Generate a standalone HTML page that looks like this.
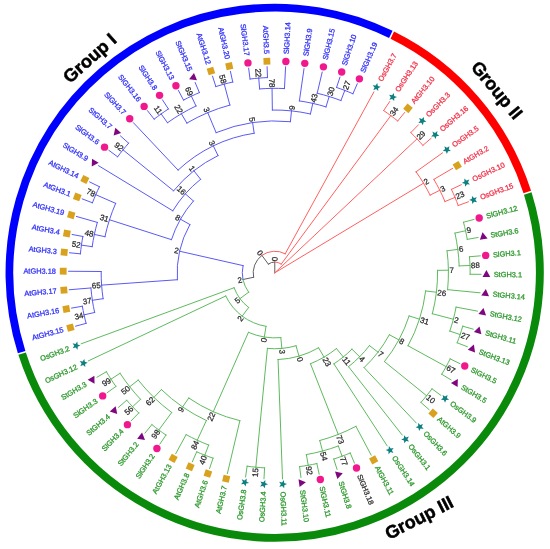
<!DOCTYPE html>
<html><head><meta charset="utf-8"><title>GH3 phylogenetic tree</title>
<style>.t{font-family:"Liberation Sans",Arial,Helvetica,sans-serif;text-rendering:geometricPrecision;}html,body{margin:0;padding:0;background:#fff;}body{width:550px;height:549px;overflow:hidden;}svg{display:block;}</style>
</head><body>
<svg width="550" height="549" viewBox="0 0 550 549">
<path d="M21.63 352.09A265.2 265.2 0 0 1 390.82 34.37" fill="none" stroke="#0000ff" stroke-width="7.9"/>
<path d="M392.28 35.09A265.2 265.2 0 0 1 527.28 191.97" fill="none" stroke="#ff0000" stroke-width="7.9"/>
<path d="M527.77 193.51A265.2 265.2 0 0 1 22.12 353.63" fill="none" stroke="#0a8a0a" stroke-width="7.9"/>
<path d="M261.86 255.37A21.71 21.71 0 0 0 253.56 277.28M253.56 277.28L242.94 279.51M274.78 261.95A10.85 10.85 0 0 0 268.33 264.09M268.33 264.09L261.86 255.37M274.8 272.8L274.78 261.95" fill="none" stroke="#606060" stroke-width="1" stroke-linecap="square"/>
<path d="M84.03 314.84A195.35 195.35 0 0 0 86.11 323.36M86.11 323.36L75.63 326.17M84.03 314.84A195.35 195.35 0 0 1 82.34 306.24M82.34 306.24L71.64 308.1M92.37 300.3A184.49 184.49 0 0 0 94.63 312.51M94.63 312.51L84.03 314.84M92.37 300.3A184.49 184.49 0 0 1 90.93 287.96M90.93 287.96L69.3 289.75M101.6 285.13A173.64 173.64 0 0 0 103.1 298.68M103.1 298.68L92.37 300.3M101.6 285.13A173.64 173.64 0 0 1 101.16 271.5M101.16 271.5L68.61 271.26M81.42 245.13A195.35 195.35 0 0 0 80.38 253.83M80.38 253.83L69.57 252.78M81.42 245.13A195.35 195.35 0 0 1 82.86 236.48M82.86 236.48L72.19 234.47M94.34 234.44A184.49 184.49 0 0 0 92.17 246.67M92.17 246.67L81.42 245.13M94.34 234.44A184.49 184.49 0 0 1 97.33 222.39M97.33 222.39L76.45 216.46M95.75 194.68A195.35 195.35 0 0 0 92.43 202.79M92.43 202.79L82.3 198.9M95.75 194.68A195.35 195.35 0 0 1 99.44 186.73M99.44 186.73L89.69 181.95M109.46 219.76A173.64 173.64 0 0 0 104.95 236.7M104.95 236.7L94.34 234.44M109.46 219.76A173.64 173.64 0 0 1 115.65 203.36M115.65 203.36L95.75 194.68M122.99 149.86A195.35 195.35 0 0 0 117.62 156.8M117.62 156.8L108.89 150.35M122.99 149.86A195.35 195.35 0 0 1 128.65 143.18M128.65 143.18L120.54 135.98M161.16 113.91A195.35 195.35 0 0 0 154.15 119.16M154.15 119.16L147.45 110.63M161.16 113.91A195.35 195.35 0 0 1 168.41 108.97M168.41 108.97L162.5 99.87M191.36 96.17A195.35 195.35 0 0 0 183.52 100.09M183.52 100.09L178.45 90.5M191.36 96.17A195.35 195.35 0 0 1 199.37 92.6M199.37 92.6L195.18 82.59M181.36 113.72A184.49 184.49 0 0 0 167.48 122.73M167.48 122.73L161.16 113.91M181.36 113.72A184.49 184.49 0 0 1 196 105.98M196 105.98L191.36 96.17M224.24 84.11A195.35 195.35 0 0 0 215.83 86.57M215.83 86.57L212.55 76.22M224.24 84.11A195.35 195.35 0 0 1 232.76 82.03M232.76 82.03L230.42 71.43M207.75 112.63A173.64 173.64 0 0 0 186.86 123.08M186.86 123.08L181.36 113.72M207.75 112.63A173.64 173.64 0 0 1 229.86 105.07M229.86 105.07L224.24 84.11M258.74 78.11A195.35 195.35 0 0 0 250.03 79.03M250.03 79.03L248.65 68.26M258.74 78.11A195.35 195.35 0 0 1 267.5 77.59M267.5 77.59L267.09 66.74M272.04 88.33A184.49 184.49 0 0 0 259.64 88.93M259.64 88.93L258.74 78.11M272.04 88.33A184.49 184.49 0 0 1 284.46 88.56M284.46 88.56L285.59 66.88M344.81 90.43A195.35 195.35 0 0 0 336.55 87.47M336.55 87.47L339.98 77.17M344.81 90.43A195.35 195.35 0 0 1 352.92 93.75M352.92 93.75L357.26 83.8M329.18 96.5A184.49 184.49 0 0 0 317.2 93.24M317.2 93.24L322.19 72.12M329.18 96.5A184.49 184.49 0 0 1 340.92 100.56M340.92 100.56L344.81 90.43M312.81 103.37A173.64 173.64 0 0 0 299.39 100.91M299.39 100.91L304.01 68.68M312.81 103.37A173.64 173.64 0 0 1 325.98 106.87M325.98 106.87L329.18 96.5M291.51 110.87A162.79 162.79 0 0 0 272.36 110.03M272.36 110.03L272.04 88.33M291.51 110.87A162.79 162.79 0 0 1 310.43 113.96M310.43 113.96L312.81 103.37M252.58 122.5A151.94 151.94 0 0 0 216.13 132.65M216.13 132.65L207.75 112.63M252.58 122.5A151.94 151.94 0 0 1 290.4 121.67M290.4 121.67L291.51 110.87M213.29 145.83A141.08 141.08 0 0 0 178.07 170.1M178.07 170.1L133.42 122.7M213.29 145.83A141.08 141.08 0 0 1 254.16 133.23M254.16 133.23L252.58 122.5M193.86 170.77A130.23 130.23 0 0 0 173.59 190.84M173.59 190.84L122.99 149.86M193.86 170.77A130.23 130.23 0 0 1 218.02 155.6M218.02 155.6L213.29 145.83M185.29 193.81A119.38 119.38 0 0 0 172.78 210.81M172.78 210.81L98.58 165.72M185.29 193.81A119.38 119.38 0 0 1 200.61 179.27M200.61 179.27L193.86 170.77M180.44 219.18A108.53 108.53 0 0 0 171.46 239.65M171.46 239.65L109.46 219.76M180.44 219.18A108.53 108.53 0 0 1 193.43 200.99M193.43 200.99L185.29 193.81M179.54 251.21A97.67 97.67 0 0 0 177.37 279.73M177.37 279.73L101.6 285.13M179.54 251.21A97.67 97.67 0 0 1 189.88 224.54M189.88 224.54L180.44 219.18M242.94 279.51A32.56 32.56 0 0 1 243.05 265.6M243.05 265.6L179.54 251.21" fill="none" stroke="#5a5af5" stroke-width="1" stroke-linecap="square"/>
<path d="M390.8 115.62A195.35 195.35 0 0 0 383.63 110.58M383.63 110.58L389.68 101.57M390.8 115.62A195.35 195.35 0 0 1 397.74 120.99M397.74 120.99L404.57 112.55M417 138.86A195.35 195.35 0 0 0 410.85 132.62M410.85 132.62L418.41 124.83M417 138.86A195.35 195.35 0 0 1 422.87 145.38M422.87 145.38L431.09 138.3M455 197.37A195.35 195.35 0 0 0 451.43 189.36M451.43 189.36L461.24 184.73M455 197.37A195.35 195.35 0 0 1 458.2 205.53M458.2 205.53L468.39 201.79M439.81 190.27A184.49 184.49 0 0 0 433.88 179.36M433.88 179.36L452.6 168.37M439.81 190.27A184.49 184.49 0 0 1 444.99 201.56M444.99 201.56L455 197.37M423.53 183.18A173.64 173.64 0 0 0 416.04 171.79M416.04 171.79L442.52 152.85M423.53 183.18A173.64 173.64 0 0 1 430.1 195.13M430.1 195.13L439.81 190.27M261.86 255.37A21.71 21.71 0 0 1 285.23 253.76M285.23 253.76L373.87 91.96M274.78 261.95A10.85 10.85 0 0 1 281.24 264.07M281.24 264.07L390.8 115.62M274.8 272.8L417 138.86M274.8 272.8L423.53 183.18" fill="none" stroke="#ff6060" stroke-width="1" stroke-linecap="square"/>
<path d="M465.57 230.76A195.35 195.35 0 0 0 463.49 222.24M463.49 222.24L473.97 219.43M465.57 230.76A195.35 195.35 0 0 1 467.26 239.36M467.26 239.36L477.96 237.5M470.01 265.5A195.35 195.35 0 0 0 469.49 256.74M469.49 256.74L480.3 255.85M470.01 265.5A195.35 195.35 0 0 1 470.14 274.26M470.14 274.26L480.99 274.34M457.81 249.4A184.49 184.49 0 0 0 454.97 233.09M454.97 233.09L465.57 230.76M457.81 249.4A184.49 184.49 0 0 1 459.17 265.9M459.17 265.9L470.01 265.5M448.42 270.2A173.64 173.64 0 0 0 447.04 250.78M447.04 250.78L457.81 249.4M448.42 270.2A173.64 173.64 0 0 1 447.62 289.66M447.62 289.66L480.03 292.82M460.13 334.55A195.35 195.35 0 0 0 462.71 326.18M462.71 326.18L473.15 329.14M460.13 334.55A195.35 195.35 0 0 1 457.17 342.81M457.17 342.81L467.3 346.7M453.36 319.22A184.49 184.49 0 0 0 456.08 307.1M456.08 307.1L477.41 311.13M453.36 319.22A184.49 184.49 0 0 1 449.83 331.12M449.83 331.12L460.13 334.55M436.43 292.24A162.79 162.79 0 0 0 437.57 270.36M437.57 270.36L448.42 270.2M436.43 292.24A162.79 162.79 0 0 1 432.35 313.76M432.35 313.76L453.36 319.22M446.12 366.65A195.35 195.35 0 0 0 450.16 358.87M450.16 358.87L459.91 363.65M446.12 366.65A195.35 195.35 0 0 1 441.74 374.25M441.74 374.25L451.02 379.88M419.48 319.21A151.94 151.94 0 0 0 425.65 290.94M425.65 290.94L436.43 292.24M419.48 319.21A151.94 151.94 0 0 1 408.05 345.8M408.05 345.8L446.12 366.65M426.61 395.74A195.35 195.35 0 0 0 431.98 388.8M431.98 388.8L440.71 395.25M426.61 395.74A195.35 195.35 0 0 1 420.95 402.42M420.95 402.42L429.06 409.62M398.91 339.89A141.08 141.08 0 0 0 409.14 315.9M409.14 315.9L419.48 319.21M398.91 339.89A141.08 141.08 0 0 1 384.44 361.59M384.44 361.59L426.61 395.74M378.05 352.18A130.23 130.23 0 0 0 389.37 334.73M389.37 334.73L398.91 339.89M378.05 352.18A130.23 130.23 0 0 1 364.09 367.6M364.09 367.6L416.18 422.9M359.65 356.78A119.38 119.38 0 0 0 369.44 345.56M369.44 345.56L378.05 352.18M359.65 356.78A119.38 119.38 0 0 1 348.53 366.69M348.53 366.69L402.15 434.97M343.31 356.96A108.53 108.53 0 0 0 351.93 349.14M351.93 349.14L359.65 356.78M343.31 356.96A108.53 108.53 0 0 1 333.91 363.82M333.91 363.82L387.1 445.73M342.07 456.2A195.35 195.35 0 0 0 350.23 453M350.23 453L354.42 463.01M342.07 456.2A195.35 195.35 0 0 1 333.77 459.03M333.77 459.03L337.05 469.38M308.24 465.26A195.35 195.35 0 0 0 316.84 463.57M316.84 463.57L319.18 474.17M308.24 465.26A195.35 195.35 0 0 1 299.57 466.57M299.57 466.57L300.95 477.34M322.55 451.01A184.49 184.49 0 0 0 338.33 446.01M338.33 446.01L342.07 456.2M322.55 451.01A184.49 184.49 0 0 1 306.38 454.57M306.38 454.57L308.24 465.26M338.24 434.44A173.64 173.64 0 0 0 355.94 426.32M355.94 426.32L371.15 455.1M338.24 434.44A173.64 173.64 0 0 1 319.74 440.53M319.74 440.53L322.55 451.01M324.06 357.14A97.67 97.67 0 0 0 336.46 348.55M336.46 348.55L343.31 356.96M324.06 357.14A97.67 97.67 0 0 1 310.48 363.72M310.48 363.72L338.24 434.44M299.04 356.17A86.82 86.82 0 0 0 318.59 347.77M318.59 347.77L324.06 357.14M299.04 356.17A86.82 86.82 0 0 1 278.05 359.56M278.05 359.56L282.51 478.86M255.83 467.22A195.35 195.35 0 0 0 264.58 467.88M264.58 467.88L264.01 478.72M255.83 467.22A195.35 195.35 0 0 1 247.13 466.18M247.13 466.18L245.59 476.92M281.85 348.44A75.97 75.97 0 0 0 296.01 345.75M296.01 345.75L299.04 356.17M281.85 348.44A75.97 75.97 0 0 1 267.42 348.41M267.42 348.41L255.83 467.22M204.79 455.17A195.35 195.35 0 0 0 213.05 458.13M213.05 458.13L209.62 468.43M204.79 455.17A195.35 195.35 0 0 1 196.68 451.85M196.68 451.85L192.34 461.8M197.25 440.2A184.49 184.49 0 0 0 208.68 445.04M208.68 445.04L204.79 455.17M197.25 440.2A184.49 184.49 0 0 1 186.16 434.61M186.16 434.61L175.73 453.64M158.8 429.98A195.35 195.35 0 0 0 165.97 435.02M165.97 435.02L159.92 444.03M158.8 429.98A195.35 195.35 0 0 1 151.86 424.61M151.86 424.61L145.03 433.05M132.6 406.74A195.35 195.35 0 0 0 138.75 412.98M138.75 412.98L131.19 420.77M132.6 406.74A195.35 195.35 0 0 1 126.73 400.22M126.73 400.22L118.51 407.3M110.97 379.19A195.35 195.35 0 0 0 115.91 386.44M115.91 386.44L107.08 392.75M110.97 379.19A195.35 195.35 0 0 1 106.36 371.74M106.36 371.74L97 377.23M129.7 386.75A184.49 184.49 0 0 0 140.5 399.3M140.5 399.3L132.6 406.74M129.7 386.75A184.49 184.49 0 0 1 120.07 373.28M120.07 373.28L110.97 379.19M153.87 397.41A173.64 173.64 0 0 0 171.69 412.51M171.69 412.51L158.8 429.98M153.87 397.41A173.64 173.64 0 0 1 138.24 380.05M138.24 380.05L129.7 386.75M182.6 406.96A162.79 162.79 0 0 0 206.37 420.51M206.37 420.51L197.25 440.2M182.6 406.96A162.79 162.79 0 0 1 161.43 389.62M161.43 389.62L153.87 397.41M213.26 411.72A151.94 151.94 0 0 0 239.88 420.67M239.88 420.67L227.41 473.48M213.26 411.72A151.94 151.94 0 0 1 188.74 398.02M188.74 398.02L182.6 406.96M264.29 337.06A65.12 65.12 0 0 0 280.84 337.64M280.84 337.64L281.85 348.44M264.29 337.06A65.12 65.12 0 0 1 248.43 332.34M248.43 332.34L213.26 411.72M242.14 316.14A54.26 54.26 0 0 0 266.04 326.35M266.04 326.35L264.29 337.06M242.14 316.14A54.26 54.26 0 0 1 225.74 295.98M225.74 295.98L88.36 360.87M239.94 298.67A43.41 43.41 0 0 0 248.67 307.47M248.67 307.47L242.14 316.14M239.94 298.67A43.41 43.41 0 0 1 234.04 287.75M234.04 287.75L81.21 343.81M242.94 279.51A32.56 32.56 0 0 0 248.65 292.2M248.65 292.2L239.94 298.67" fill="none" stroke="#5fba5f" stroke-width="1" stroke-linecap="square"/>
<g class="t" font-size="8" fill="#2b2b2b" stroke="#2b2b2b" stroke-width="0.25">
<text x="83.25" y="315.02" transform="rotate(-12.43 83.25 315.02)" text-anchor="end" dy="0.35em">34</text>
<text x="91.57" y="300.42" transform="rotate(-8.57 91.57 300.42)" text-anchor="end" dy="0.35em">37</text>
<text x="100.8" y="285.19" transform="rotate(-4.07 100.8 285.19)" text-anchor="end" dy="0.35em">65</text>
<text x="80.63" y="245.02" transform="rotate(8.14 80.63 245.02)" text-anchor="end" dy="0.35em">52</text>
<text x="93.55" y="234.28" transform="rotate(12 93.55 234.28)" text-anchor="end" dy="0.35em">48</text>
<text x="95.02" y="194.36" transform="rotate(23.57 95.02 194.36)" text-anchor="end" dy="0.35em">78</text>
<text x="108.7" y="219.52" transform="rotate(17.79 108.7 219.52)" text-anchor="end" dy="0.35em">31</text>
<text x="122.36" y="149.36" transform="rotate(39 122.36 149.36)" text-anchor="end" dy="0.35em">92</text>
<text x="160.7" y="113.26" transform="rotate(54.43 160.7 113.26)" text-anchor="end" dy="0.35em">11</text>
<text x="191.02" y="95.45" transform="rotate(64.71 191.02 95.45)" text-anchor="end" dy="0.35em">69</text>
<text x="180.95" y="113.03" transform="rotate(59.57 180.95 113.03)" text-anchor="end" dy="0.35em">22</text>
<text x="224.03" y="83.34" transform="rotate(75 224.03 83.34)" text-anchor="end" dy="0.35em">58</text>
<text x="207.44" y="111.89" transform="rotate(67.29 207.44 111.89)" text-anchor="end" dy="0.35em">3</text>
<text x="258.68" y="77.32" transform="rotate(85.29 258.68 77.32)" text-anchor="end" dy="0.35em">22</text>
<text x="272.03" y="87.53" transform="rotate(89.14 272.03 87.53)" text-anchor="end" dy="0.35em">78</text>
<text x="345.16" y="89.49" transform="rotate(-69 345.16 89.49)" text-anchor="start" dy="0.35em">27</text>
<text x="329.48" y="95.55" transform="rotate(-72.86 329.48 95.55)" text-anchor="start" dy="0.35em">30</text>
<text x="313.02" y="102.39" transform="rotate(-77.36 313.02 102.39)" text-anchor="start" dy="0.35em">43</text>
<text x="291.62" y="109.88" transform="rotate(-84.11 291.62 109.88)" text-anchor="start" dy="0.35em">9</text>
<text x="252.46" y="121.71" transform="rotate(81.59 252.46 121.71)" text-anchor="end" dy="0.35em">5</text>
<text x="212.94" y="145.11" transform="rotate(64.15 212.94 145.11)" text-anchor="end" dy="0.35em">3</text>
<text x="193.37" y="170.15" transform="rotate(51.58 193.37 170.15)" text-anchor="end" dy="0.35em">1</text>
<text x="184.7" y="193.28" transform="rotate(41.43 184.7 193.28)" text-anchor="end" dy="0.35em">16</text>
<text x="179.75" y="218.79" transform="rotate(29.61 179.75 218.79)" text-anchor="end" dy="0.35em">8</text>
<text x="178.76" y="251.04" transform="rotate(12.77 178.76 251.04)" text-anchor="end" dy="0.35em">2</text>
<text x="391.4" y="114.82" transform="rotate(-53.57 391.4 114.82)" text-anchor="start" dy="0.35em">34</text>
<text x="417.73" y="138.18" transform="rotate(-43.29 417.73 138.18)" text-anchor="start" dy="0.35em">29</text>
<text x="455.92" y="196.98" transform="rotate(-22.71 455.92 196.98)" text-anchor="start" dy="0.35em">23</text>
<text x="440.7" y="189.83" transform="rotate(-26.57 440.7 189.83)" text-anchor="start" dy="0.35em">3</text>
<text x="424.39" y="182.67" transform="rotate(-31.07 424.39 182.67)" text-anchor="start" dy="0.35em">2</text>
<text x="466.55" y="230.54" transform="rotate(-12.43 466.55 230.54)" text-anchor="start" dy="0.35em">9</text>
<text x="471.01" y="265.46" transform="rotate(-2.14 471.01 265.46)" text-anchor="start" dy="0.35em">88</text>
<text x="458.8" y="249.28" transform="rotate(-7.29 458.8 249.28)" text-anchor="start" dy="0.35em">6</text>
<text x="449.42" y="270.19" transform="rotate(-0.86 449.42 270.19)" text-anchor="start" dy="0.35em">7</text>
<text x="461.08" y="334.87" transform="rotate(18.43 461.08 334.87)" text-anchor="start" dy="0.35em">27</text>
<text x="454.33" y="319.47" transform="rotate(14.57 454.33 319.47)" text-anchor="start" dy="0.35em">2</text>
<text x="437.42" y="292.36" transform="rotate(6.86 437.42 292.36)" text-anchor="start" dy="0.35em">26</text>
<text x="447" y="367.13" transform="rotate(28.71 447 367.13)" text-anchor="start" dy="0.35em">67</text>
<text x="420.43" y="319.52" transform="rotate(17.79 420.43 319.52)" text-anchor="start" dy="0.35em">31</text>
<text x="427.39" y="396.37" transform="rotate(39 427.39 396.37)" text-anchor="start" dy="0.35em">10</text>
<text x="399.79" y="340.36" transform="rotate(28.39 399.79 340.36)" text-anchor="start" dy="0.35em">8</text>
<text x="378.84" y="352.79" transform="rotate(37.55 378.84 352.79)" text-anchor="start" dy="0.35em">7</text>
<text x="360.36" y="357.48" transform="rotate(44.71 360.36 357.48)" text-anchor="start" dy="0.35em">4</text>
<text x="343.95" y="357.74" transform="rotate(50.85 343.95 357.74)" text-anchor="start" dy="0.35em">11</text>
<text x="342.41" y="457.14" transform="rotate(69.86 342.41 457.14)" text-anchor="start" dy="0.35em">77</text>
<text x="308.41" y="466.25" transform="rotate(80.14 308.41 466.25)" text-anchor="start" dy="0.35em">92</text>
<text x="322.81" y="451.97" transform="rotate(75 322.81 451.97)" text-anchor="start" dy="0.35em">54</text>
<text x="338.6" y="435.37" transform="rotate(68.57 338.6 435.37)" text-anchor="start" dy="0.35em">73</text>
<text x="324.57" y="358" transform="rotate(59.71 324.57 358)" text-anchor="start" dy="0.35em">23</text>
<text x="299.32" y="357.13" transform="rotate(73.78 299.32 357.13)" text-anchor="start" dy="0.35em">0</text>
<text x="255.76" y="468.02" transform="rotate(-84.43 255.76 468.02)" text-anchor="end" dy="0.35em">15</text>
<text x="281.94" y="349.44" transform="rotate(84.68 281.94 349.44)" text-anchor="start" dy="0.35em">3</text>
<text x="204.51" y="455.92" transform="rotate(-69 204.51 455.92)" text-anchor="end" dy="0.35em">40</text>
<text x="196.91" y="440.93" transform="rotate(-65.14 196.91 440.93)" text-anchor="end" dy="0.35em">84</text>
<text x="158.32" y="430.62" transform="rotate(-53.57 158.32 430.62)" text-anchor="end" dy="0.35em">98</text>
<text x="132.02" y="407.29" transform="rotate(-43.29 132.02 407.29)" text-anchor="end" dy="0.35em">56</text>
<text x="110.3" y="379.63" transform="rotate(-33 110.3 379.63)" text-anchor="end" dy="0.35em">99</text>
<text x="129.07" y="387.24" transform="rotate(-38.14 129.07 387.24)" text-anchor="end" dy="0.35em">50</text>
<text x="153.31" y="397.98" transform="rotate(-45.86 153.31 397.98)" text-anchor="end" dy="0.35em">62</text>
<text x="182.14" y="407.62" transform="rotate(-55.5 182.14 407.62)" text-anchor="end" dy="0.35em">9</text>
<text x="212.94" y="412.45" transform="rotate(-66.11 212.94 412.45)" text-anchor="end" dy="0.35em">22</text>
<text x="264.16" y="337.85" transform="rotate(-80.71 264.16 337.85)" text-anchor="end" dy="0.35em">0</text>
<text x="241.66" y="316.78" transform="rotate(-53 241.66 316.78)" text-anchor="end" dy="0.35em">2</text>
<text x="239.29" y="299.14" transform="rotate(-36.57 239.29 299.14)" text-anchor="end" dy="0.35em">5</text>
<text x="242.16" y="279.68" transform="rotate(-11.9 242.16 279.68)" text-anchor="end" dy="0.35em">2</text>
<text x="261.38" y="254.73" transform="rotate(53.41 261.38 254.73)" text-anchor="end" dy="0.35em">0</text>
<text x="274.78" y="261.15" transform="rotate(89.92 274.78 261.15)" text-anchor="end" dy="0.35em">0</text>
</g>
<rect transform="translate(70.41 327.57) rotate(165)" x="-3.4" y="-3.4" width="6.8" height="6.8" fill="#d9a21e"/>
<rect transform="translate(66.32 309.02) rotate(170.14)" x="-3.4" y="-3.4" width="6.8" height="6.8" fill="#d9a21e"/>
<rect transform="translate(63.92 290.19) rotate(175.29)" x="-3.4" y="-3.4" width="6.8" height="6.8" fill="#d9a21e"/>
<rect transform="translate(63.21 271.22) rotate(180.43)" x="-3.4" y="-3.4" width="6.8" height="6.8" fill="#d9a21e"/>
<rect transform="translate(64.2 252.26) rotate(185.57)" x="-3.4" y="-3.4" width="6.8" height="6.8" fill="#d9a21e"/>
<rect transform="translate(66.89 233.46) rotate(190.71)" x="-3.4" y="-3.4" width="6.8" height="6.8" fill="#d9a21e"/>
<rect transform="translate(71.25 214.98) rotate(195.86)" x="-3.4" y="-3.4" width="6.8" height="6.8" fill="#d9a21e"/>
<rect transform="translate(77.25 196.97) rotate(201)" x="-3.4" y="-3.4" width="6.8" height="6.8" fill="#d9a21e"/>
<rect transform="translate(84.85 179.57) rotate(206.14)" x="-3.4" y="-3.4" width="6.8" height="6.8" fill="#d9a21e"/>
<path transform="translate(93.97 162.91) rotate(211.29)" d="M0 -4.3L3.9 2.6L-3.9 2.6Z" fill="#7e067e"/>
<circle cx="104.55" cy="147.15" r="3.7" fill="#f0188c"/>
<path transform="translate(116.5 132.39) rotate(221.57)" d="M0 -4.3L3.9 2.6L-3.9 2.6Z" fill="#7e067e"/>
<circle cx="129.72" cy="118.77" r="3.7" fill="#f0188c"/>
<circle cx="144.11" cy="106.38" r="3.7" fill="#f0188c"/>
<circle cx="159.55" cy="95.34" r="3.7" fill="#f0188c"/>
<circle cx="175.93" cy="85.72" r="3.7" fill="#f0188c"/>
<path transform="translate(193.09 77.61) rotate(247.29)" d="M0 -4.3L3.9 2.6L-3.9 2.6Z" fill="#7e067e"/>
<rect transform="translate(210.92 71.07) rotate(252.43)" x="-3.4" y="-3.4" width="6.8" height="6.8" fill="#d9a21e"/>
<rect transform="translate(229.26 66.16) rotate(257.57)" x="-3.4" y="-3.4" width="6.8" height="6.8" fill="#d9a21e"/>
<circle cx="247.97" cy="62.91" r="3.7" fill="#f0188c"/>
<rect transform="translate(266.89 61.35) rotate(267.86)" x="-3.4" y="-3.4" width="6.8" height="6.8" fill="#d9a21e"/>
<circle cx="285.87" cy="61.49" r="3.7" fill="#f0188c"/>
<circle cx="304.77" cy="63.33" r="3.7" fill="#f0188c"/>
<circle cx="323.43" cy="66.86" r="3.7" fill="#f0188c"/>
<circle cx="341.69" cy="72.05" r="3.7" fill="#f0188c"/>
<circle cx="359.42" cy="78.86" r="3.7" fill="#f0188c"/>
<polygon transform="translate(376.46 87.22) rotate(298.71)" points="0,-4.3 1.12,-1.54 4.09,-1.33 1.81,0.59 2.53,3.48 0,1.9 -2.53,3.48 -1.81,0.59 -4.09,-1.33 -1.12,-1.54" fill="#0e8080"/>
<polygon transform="translate(392.69 97.08) rotate(303.86)" points="0,-4.3 1.12,-1.54 4.09,-1.33 1.81,0.59 2.53,3.48 0,1.9 -2.53,3.48 -1.81,0.59 -4.09,-1.33 -1.12,-1.54" fill="#0e8080"/>
<rect transform="translate(407.96 108.36) rotate(309)" x="-3.4" y="-3.4" width="6.8" height="6.8" fill="#d9a21e"/>
<polygon transform="translate(422.17 120.95) rotate(314.14)" points="0,-4.3 1.12,-1.54 4.09,-1.33 1.81,0.59 2.53,3.48 0,1.9 -2.53,3.48 -1.81,0.59 -4.09,-1.33 -1.12,-1.54" fill="#0e8080"/>
<polygon transform="translate(435.19 134.78) rotate(319.29)" points="0,-4.3 1.12,-1.54 4.09,-1.33 1.81,0.59 2.53,3.48 0,1.9 -2.53,3.48 -1.81,0.59 -4.09,-1.33 -1.12,-1.54" fill="#0e8080"/>
<polygon transform="translate(446.91 149.71) rotate(324.43)" points="0,-4.3 1.12,-1.54 4.09,-1.33 1.81,0.59 2.53,3.48 0,1.9 -2.53,3.48 -1.81,0.59 -4.09,-1.33 -1.12,-1.54" fill="#0e8080"/>
<rect transform="translate(457.25 165.63) rotate(329.57)" x="-3.4" y="-3.4" width="6.8" height="6.8" fill="#d9a21e"/>
<polygon transform="translate(466.13 182.42) rotate(334.71)" points="0,-4.3 1.12,-1.54 4.09,-1.33 1.81,0.59 2.53,3.48 0,1.9 -2.53,3.48 -1.81,0.59 -4.09,-1.33 -1.12,-1.54" fill="#0e8080"/>
<polygon transform="translate(473.46 199.93) rotate(339.86)" points="0,-4.3 1.12,-1.54 4.09,-1.33 1.81,0.59 2.53,3.48 0,1.9 -2.53,3.48 -1.81,0.59 -4.09,-1.33 -1.12,-1.54" fill="#0e8080"/>
<circle cx="479.19" cy="218.03" r="3.7" fill="#f0188c"/>
<path transform="translate(483.28 236.58) rotate(350.14)" d="M0 -4.3L3.9 2.6L-3.9 2.6Z" fill="#7e067e"/>
<circle cx="485.68" cy="255.41" r="3.7" fill="#f0188c"/>
<path transform="translate(486.39 274.38) rotate(0.43)" d="M0 -4.3L3.9 2.6L-3.9 2.6Z" fill="#7e067e"/>
<path transform="translate(485.4 293.34) rotate(5.57)" d="M0 -4.3L3.9 2.6L-3.9 2.6Z" fill="#7e067e"/>
<path transform="translate(482.71 312.14) rotate(10.71)" d="M0 -4.3L3.9 2.6L-3.9 2.6Z" fill="#7e067e"/>
<path transform="translate(478.35 330.62) rotate(15.86)" d="M0 -4.3L3.9 2.6L-3.9 2.6Z" fill="#7e067e"/>
<path transform="translate(472.35 348.63) rotate(21)" d="M0 -4.3L3.9 2.6L-3.9 2.6Z" fill="#7e067e"/>
<circle cx="464.75" cy="366.03" r="3.7" fill="#f0188c"/>
<path transform="translate(455.63 382.69) rotate(31.29)" d="M0 -4.3L3.9 2.6L-3.9 2.6Z" fill="#7e067e"/>
<polygon transform="translate(445.05 398.45) rotate(36.43)" points="0,-4.3 1.12,-1.54 4.09,-1.33 1.81,0.59 2.53,3.48 0,1.9 -2.53,3.48 -1.81,0.59 -4.09,-1.33 -1.12,-1.54" fill="#0e8080"/>
<rect transform="translate(433.1 413.21) rotate(41.57)" x="-3.4" y="-3.4" width="6.8" height="6.8" fill="#d9a21e"/>
<polygon transform="translate(419.88 426.83) rotate(46.71)" points="0,-4.3 1.12,-1.54 4.09,-1.33 1.81,0.59 2.53,3.48 0,1.9 -2.53,3.48 -1.81,0.59 -4.09,-1.33 -1.12,-1.54" fill="#0e8080"/>
<polygon transform="translate(405.49 439.22) rotate(51.86)" points="0,-4.3 1.12,-1.54 4.09,-1.33 1.81,0.59 2.53,3.48 0,1.9 -2.53,3.48 -1.81,0.59 -4.09,-1.33 -1.12,-1.54" fill="#0e8080"/>
<polygon transform="translate(390.05 450.26) rotate(57)" points="0,-4.3 1.12,-1.54 4.09,-1.33 1.81,0.59 2.53,3.48 0,1.9 -2.53,3.48 -1.81,0.59 -4.09,-1.33 -1.12,-1.54" fill="#0e8080"/>
<rect transform="translate(373.67 459.88) rotate(62.14)" x="-3.4" y="-3.4" width="6.8" height="6.8" fill="#d9a21e"/>
<circle cx="356.51" cy="467.99" r="3.7" fill="#f0188c"/>
<path transform="translate(338.68 474.53) rotate(72.43)" d="M0 -4.3L3.9 2.6L-3.9 2.6Z" fill="#7e067e"/>
<circle cx="320.34" cy="479.44" r="3.7" fill="#f0188c"/>
<path transform="translate(301.63 482.69) rotate(82.71)" d="M0 -4.3L3.9 2.6L-3.9 2.6Z" fill="#7e067e"/>
<polygon transform="translate(282.71 484.25) rotate(87.86)" points="0,-4.3 1.12,-1.54 4.09,-1.33 1.81,0.59 2.53,3.48 0,1.9 -2.53,3.48 -1.81,0.59 -4.09,-1.33 -1.12,-1.54" fill="#0e8080"/>
<polygon transform="translate(263.73 484.11) rotate(93)" points="0,-4.3 1.12,-1.54 4.09,-1.33 1.81,0.59 2.53,3.48 0,1.9 -2.53,3.48 -1.81,0.59 -4.09,-1.33 -1.12,-1.54" fill="#0e8080"/>
<polygon transform="translate(244.83 482.27) rotate(98.14)" points="0,-4.3 1.12,-1.54 4.09,-1.33 1.81,0.59 2.53,3.48 0,1.9 -2.53,3.48 -1.81,0.59 -4.09,-1.33 -1.12,-1.54" fill="#0e8080"/>
<rect transform="translate(226.17 478.74) rotate(103.29)" x="-3.4" y="-3.4" width="6.8" height="6.8" fill="#d9a21e"/>
<rect transform="translate(207.91 473.55) rotate(108.43)" x="-3.4" y="-3.4" width="6.8" height="6.8" fill="#d9a21e"/>
<rect transform="translate(190.18 466.74) rotate(113.57)" x="-3.4" y="-3.4" width="6.8" height="6.8" fill="#d9a21e"/>
<rect transform="translate(173.14 458.38) rotate(118.71)" x="-3.4" y="-3.4" width="6.8" height="6.8" fill="#d9a21e"/>
<circle cx="156.91" cy="448.52" r="3.7" fill="#f0188c"/>
<path transform="translate(141.64 437.24) rotate(129)" d="M0 -4.3L3.9 2.6L-3.9 2.6Z" fill="#7e067e"/>
<circle cx="127.43" cy="424.65" r="3.7" fill="#f0188c"/>
<path transform="translate(114.41 410.82) rotate(139.29)" d="M0 -4.3L3.9 2.6L-3.9 2.6Z" fill="#7e067e"/>
<circle cx="102.69" cy="395.89" r="3.7" fill="#f0188c"/>
<path transform="translate(92.35 379.97) rotate(149.57)" d="M0 -4.3L3.9 2.6L-3.9 2.6Z" fill="#7e067e"/>
<polygon transform="translate(83.47 363.18) rotate(154.71)" points="0,-4.3 1.12,-1.54 4.09,-1.33 1.81,0.59 2.53,3.48 0,1.9 -2.53,3.48 -1.81,0.59 -4.09,-1.33 -1.12,-1.54" fill="#0e8080"/>
<polygon transform="translate(76.14 345.67) rotate(159.86)" points="0,-4.3 1.12,-1.54 4.09,-1.33 1.81,0.59 2.53,3.48 0,1.9 -2.53,3.48 -1.81,0.59 -4.09,-1.33 -1.12,-1.54" fill="#0e8080"/>
<g class="t" font-size="7.4" stroke-width="0.3">
<text x="63.36" y="329.46" transform="rotate(-15 63.36 329.46)" text-anchor="end" dy="0.35em" fill="#3434fa" stroke="#3434fa">AtGH3.15</text>
<text x="59.13" y="310.27" transform="rotate(-9.86 59.13 310.27)" text-anchor="end" dy="0.35em" fill="#3434fa" stroke="#3434fa">AtGH3.16</text>
<text x="56.64" y="290.79" transform="rotate(-4.71 56.64 290.79)" text-anchor="end" dy="0.35em" fill="#3434fa" stroke="#3434fa">AtGH3.17</text>
<text x="55.91" y="271.16" transform="rotate(0.43 55.91 271.16)" text-anchor="end" dy="0.35em" fill="#3434fa" stroke="#3434fa">AtGH3.18</text>
<text x="56.93" y="251.55" transform="rotate(5.57 56.93 251.55)" text-anchor="end" dy="0.35em" fill="#3434fa" stroke="#3434fa">AtGH3.3</text>
<text x="59.72" y="232.1" transform="rotate(10.71 59.72 232.1)" text-anchor="end" dy="0.35em" fill="#3434fa" stroke="#3434fa">AtGH3.4</text>
<text x="64.23" y="212.99" transform="rotate(15.86 64.23 212.99)" text-anchor="end" dy="0.35em" fill="#3434fa" stroke="#3434fa">AtGH3.19</text>
<text x="70.44" y="194.35" transform="rotate(21 70.44 194.35)" text-anchor="end" dy="0.35em" fill="#3434fa" stroke="#3434fa">AtGH3.1</text>
<text x="78.29" y="176.35" transform="rotate(26.14 78.29 176.35)" text-anchor="end" dy="0.35em" fill="#3434fa" stroke="#3434fa">AtGH3.14</text>
<text x="87.73" y="159.12" transform="rotate(31.29 87.73 159.12)" text-anchor="end" dy="0.35em" fill="#3434fa" stroke="#3434fa">StGH3.9</text>
<text x="98.67" y="142.81" transform="rotate(36.43 98.67 142.81)" text-anchor="end" dy="0.35em" fill="#3434fa" stroke="#3434fa">SlGH3.6</text>
<text x="111.03" y="127.55" transform="rotate(41.57 111.03 127.55)" text-anchor="end" dy="0.35em" fill="#3434fa" stroke="#3434fa">StGH3.7</text>
<text x="124.71" y="113.45" transform="rotate(46.71 124.71 113.45)" text-anchor="end" dy="0.35em" fill="#3434fa" stroke="#3434fa">SlGH3.7</text>
<text x="139.6" y="100.64" transform="rotate(51.86 139.6 100.64)" text-anchor="end" dy="0.35em" fill="#3434fa" stroke="#3434fa">SlGH3.16</text>
<text x="155.58" y="89.22" transform="rotate(57 155.58 89.22)" text-anchor="end" dy="0.35em" fill="#3434fa" stroke="#3434fa">SlGH3.8</text>
<text x="172.51" y="79.27" transform="rotate(62.14 172.51 79.27)" text-anchor="end" dy="0.35em" fill="#3434fa" stroke="#3434fa">SlGH3.13</text>
<text x="190.27" y="70.88" transform="rotate(67.29 190.27 70.88)" text-anchor="end" dy="0.35em" fill="#3434fa" stroke="#3434fa">StGH3.15</text>
<text x="208.72" y="64.11" transform="rotate(72.43 208.72 64.11)" text-anchor="end" dy="0.35em" fill="#3434fa" stroke="#3434fa">AtGH3.12</text>
<text x="227.69" y="59.03" transform="rotate(77.57 227.69 59.03)" text-anchor="end" dy="0.35em" fill="#3434fa" stroke="#3434fa">AtGH3.20</text>
<text x="247.04" y="55.67" transform="rotate(82.71 247.04 55.67)" text-anchor="end" dy="0.35em" fill="#3434fa" stroke="#3434fa">SlGH3.17</text>
<text x="266.62" y="54.05" transform="rotate(87.86 266.62 54.05)" text-anchor="end" dy="0.35em" fill="#3434fa" stroke="#3434fa">AtGH3.5</text>
<text x="286.26" y="54.2" transform="rotate(-87 286.26 54.2)" text-anchor="start" dy="0.35em" fill="#3434fa" stroke="#3434fa">SlGH3.14</text>
<text x="305.81" y="56.11" transform="rotate(-81.86 305.81 56.11)" text-anchor="start" dy="0.35em" fill="#3434fa" stroke="#3434fa">SlGH3.9</text>
<text x="325.1" y="59.76" transform="rotate(-76.71 325.1 59.76)" text-anchor="start" dy="0.35em" fill="#3434fa" stroke="#3434fa">SlGH3.15</text>
<text x="344" y="65.13" transform="rotate(-71.57 344 65.13)" text-anchor="start" dy="0.35em" fill="#3434fa" stroke="#3434fa">SlGH3.10</text>
<text x="362.34" y="72.16" transform="rotate(-66.43 362.34 72.16)" text-anchor="start" dy="0.35em" fill="#3434fa" stroke="#3434fa">SlGH3.19</text>
<text x="379.97" y="80.82" transform="rotate(-61.29 379.97 80.82)" text-anchor="start" dy="0.35em" fill="#f2364c" stroke="#f2364c">OsGH3.7</text>
<text x="396.75" y="91.02" transform="rotate(-56.14 396.75 91.02)" text-anchor="start" dy="0.35em" fill="#f2364c" stroke="#f2364c">OsGH3.13</text>
<text x="412.56" y="102.68" transform="rotate(-51 412.56 102.68)" text-anchor="start" dy="0.35em" fill="#f2364c" stroke="#f2364c">AtGH3.10</text>
<text x="427.25" y="115.72" transform="rotate(-45.86 427.25 115.72)" text-anchor="start" dy="0.35em" fill="#f2364c" stroke="#f2364c">OsGH3.3</text>
<text x="440.72" y="130.01" transform="rotate(-40.71 440.72 130.01)" text-anchor="start" dy="0.35em" fill="#f2364c" stroke="#f2364c">OsGH3.16</text>
<text x="452.85" y="145.46" transform="rotate(-35.57 452.85 145.46)" text-anchor="start" dy="0.35em" fill="#f2364c" stroke="#f2364c">OsGH3.5</text>
<text x="463.55" y="161.94" transform="rotate(-30.43 463.55 161.94)" text-anchor="start" dy="0.35em" fill="#f2364c" stroke="#f2364c">AtGH3.2</text>
<text x="472.73" y="179.3" transform="rotate(-25.29 472.73 179.3)" text-anchor="start" dy="0.35em" fill="#f2364c" stroke="#f2364c">OsGH3.10</text>
<text x="480.31" y="197.42" transform="rotate(-20.14 480.31 197.42)" text-anchor="start" dy="0.35em" fill="#f2364c" stroke="#f2364c">OsGH3.15</text>
<text x="486.24" y="216.14" transform="rotate(-15 486.24 216.14)" text-anchor="start" dy="0.35em" fill="#309a30" stroke="#309a30">SlGH3.12</text>
<text x="490.47" y="235.33" transform="rotate(-9.86 490.47 235.33)" text-anchor="start" dy="0.35em" fill="#309a30" stroke="#309a30">StGH3.6</text>
<text x="492.96" y="254.81" transform="rotate(-4.71 492.96 254.81)" text-anchor="start" dy="0.35em" fill="#309a30" stroke="#309a30">SlGH3.1</text>
<text x="493.69" y="274.44" transform="rotate(0.43 493.69 274.44)" text-anchor="start" dy="0.35em" fill="#309a30" stroke="#309a30">StGH3.1</text>
<text x="492.67" y="294.05" transform="rotate(5.57 492.67 294.05)" text-anchor="start" dy="0.35em" fill="#309a30" stroke="#309a30">StGH3.14</text>
<text x="489.88" y="313.5" transform="rotate(10.71 489.88 313.5)" text-anchor="start" dy="0.35em" fill="#309a30" stroke="#309a30">StGH3.12</text>
<text x="485.37" y="332.61" transform="rotate(15.86 485.37 332.61)" text-anchor="start" dy="0.35em" fill="#309a30" stroke="#309a30">StGH3.11</text>
<text x="479.16" y="351.25" transform="rotate(21 479.16 351.25)" text-anchor="start" dy="0.35em" fill="#309a30" stroke="#309a30">StGH3.13</text>
<text x="471.31" y="369.25" transform="rotate(26.14 471.31 369.25)" text-anchor="start" dy="0.35em" fill="#309a30" stroke="#309a30">SlGH3.5</text>
<text x="461.87" y="386.48" transform="rotate(31.29 461.87 386.48)" text-anchor="start" dy="0.35em" fill="#309a30" stroke="#309a30">StGH3.5</text>
<text x="450.93" y="402.79" transform="rotate(36.43 450.93 402.79)" text-anchor="start" dy="0.35em" fill="#309a30" stroke="#309a30">OsGH3.9</text>
<text x="438.57" y="418.05" transform="rotate(41.57 438.57 418.05)" text-anchor="start" dy="0.35em" fill="#309a30" stroke="#309a30">AtGH3.9</text>
<text x="424.89" y="432.15" transform="rotate(46.71 424.89 432.15)" text-anchor="start" dy="0.35em" fill="#309a30" stroke="#309a30">OsGH3.6</text>
<text x="410" y="444.96" transform="rotate(51.86 410 444.96)" text-anchor="start" dy="0.35em" fill="#309a30" stroke="#309a30">OsGH3.1</text>
<text x="394.02" y="456.38" transform="rotate(57 394.02 456.38)" text-anchor="start" dy="0.35em" fill="#309a30" stroke="#309a30">OsGH3.14</text>
<text x="377.09" y="466.33" transform="rotate(62.14 377.09 466.33)" text-anchor="start" dy="0.35em" fill="#309a30" stroke="#309a30">AtGH3.11</text>
<text x="359.33" y="474.72" transform="rotate(67.29 359.33 474.72)" text-anchor="start" dy="0.35em" fill="#333333" stroke="#333333">SlGH3.18</text>
<text x="340.88" y="481.49" transform="rotate(72.43 340.88 481.49)" text-anchor="start" dy="0.35em" fill="#309a30" stroke="#309a30">StGH3.8</text>
<text x="321.91" y="486.57" transform="rotate(77.57 321.91 486.57)" text-anchor="start" dy="0.35em" fill="#309a30" stroke="#309a30">SlGH3.11</text>
<text x="302.56" y="489.93" transform="rotate(82.71 302.56 489.93)" text-anchor="start" dy="0.35em" fill="#309a30" stroke="#309a30">StGH3.10</text>
<text x="282.98" y="491.55" transform="rotate(87.86 282.98 491.55)" text-anchor="start" dy="0.35em" fill="#309a30" stroke="#309a30">OsGH3.11</text>
<text x="263.34" y="491.4" transform="rotate(-87 263.34 491.4)" text-anchor="end" dy="0.35em" fill="#309a30" stroke="#309a30">OsGH3.4</text>
<text x="243.79" y="489.49" transform="rotate(-81.86 243.79 489.49)" text-anchor="end" dy="0.35em" fill="#309a30" stroke="#309a30">OsGH3.8</text>
<text x="224.5" y="485.84" transform="rotate(-76.71 224.5 485.84)" text-anchor="end" dy="0.35em" fill="#309a30" stroke="#309a30">AtGH3.7</text>
<text x="205.6" y="480.47" transform="rotate(-71.57 205.6 480.47)" text-anchor="end" dy="0.35em" fill="#309a30" stroke="#309a30">AtGH3.6</text>
<text x="187.26" y="473.44" transform="rotate(-66.43 187.26 473.44)" text-anchor="end" dy="0.35em" fill="#309a30" stroke="#309a30">AtGH3.8</text>
<text x="169.63" y="464.78" transform="rotate(-61.29 169.63 464.78)" text-anchor="end" dy="0.35em" fill="#309a30" stroke="#309a30">AtGH3.13</text>
<text x="152.85" y="454.58" transform="rotate(-56.14 152.85 454.58)" text-anchor="end" dy="0.35em" fill="#309a30" stroke="#309a30">SlGH3.2</text>
<text x="137.04" y="442.92" transform="rotate(-51 137.04 442.92)" text-anchor="end" dy="0.35em" fill="#309a30" stroke="#309a30">StGH3.2</text>
<text x="122.35" y="429.88" transform="rotate(-45.86 122.35 429.88)" text-anchor="end" dy="0.35em" fill="#309a30" stroke="#309a30">SlGH3.4</text>
<text x="108.88" y="415.59" transform="rotate(-40.71 108.88 415.59)" text-anchor="end" dy="0.35em" fill="#309a30" stroke="#309a30">StGH3.4</text>
<text x="96.75" y="400.14" transform="rotate(-35.57 96.75 400.14)" text-anchor="end" dy="0.35em" fill="#309a30" stroke="#309a30">SlGH3.3</text>
<text x="86.05" y="383.66" transform="rotate(-30.43 86.05 383.66)" text-anchor="end" dy="0.35em" fill="#309a30" stroke="#309a30">StGH3.3</text>
<text x="76.87" y="366.3" transform="rotate(-25.29 76.87 366.3)" text-anchor="end" dy="0.35em" fill="#309a30" stroke="#309a30">OsGH3.12</text>
<text x="69.29" y="348.18" transform="rotate(-20.14 69.29 348.18)" text-anchor="end" dy="0.35em" fill="#309a30" stroke="#309a30">OsGH3.2</text>
</g>
<g class="t" font-weight="bold" font-size="18" fill="#000" stroke="#000" stroke-width="0.5">
<text x="89.5" y="58" transform="rotate(-41.5 89.5 58)" text-anchor="middle" dy="0.35em">Group I</text>
<text x="497" y="90" transform="rotate(50.5 497 90)" text-anchor="middle" dy="0.35em">Group II</text>
<text x="419" y="517.5" transform="rotate(-27 419 517.5)" text-anchor="middle" dy="0.35em">Group III</text>
</g>
</svg>
</body></html>
